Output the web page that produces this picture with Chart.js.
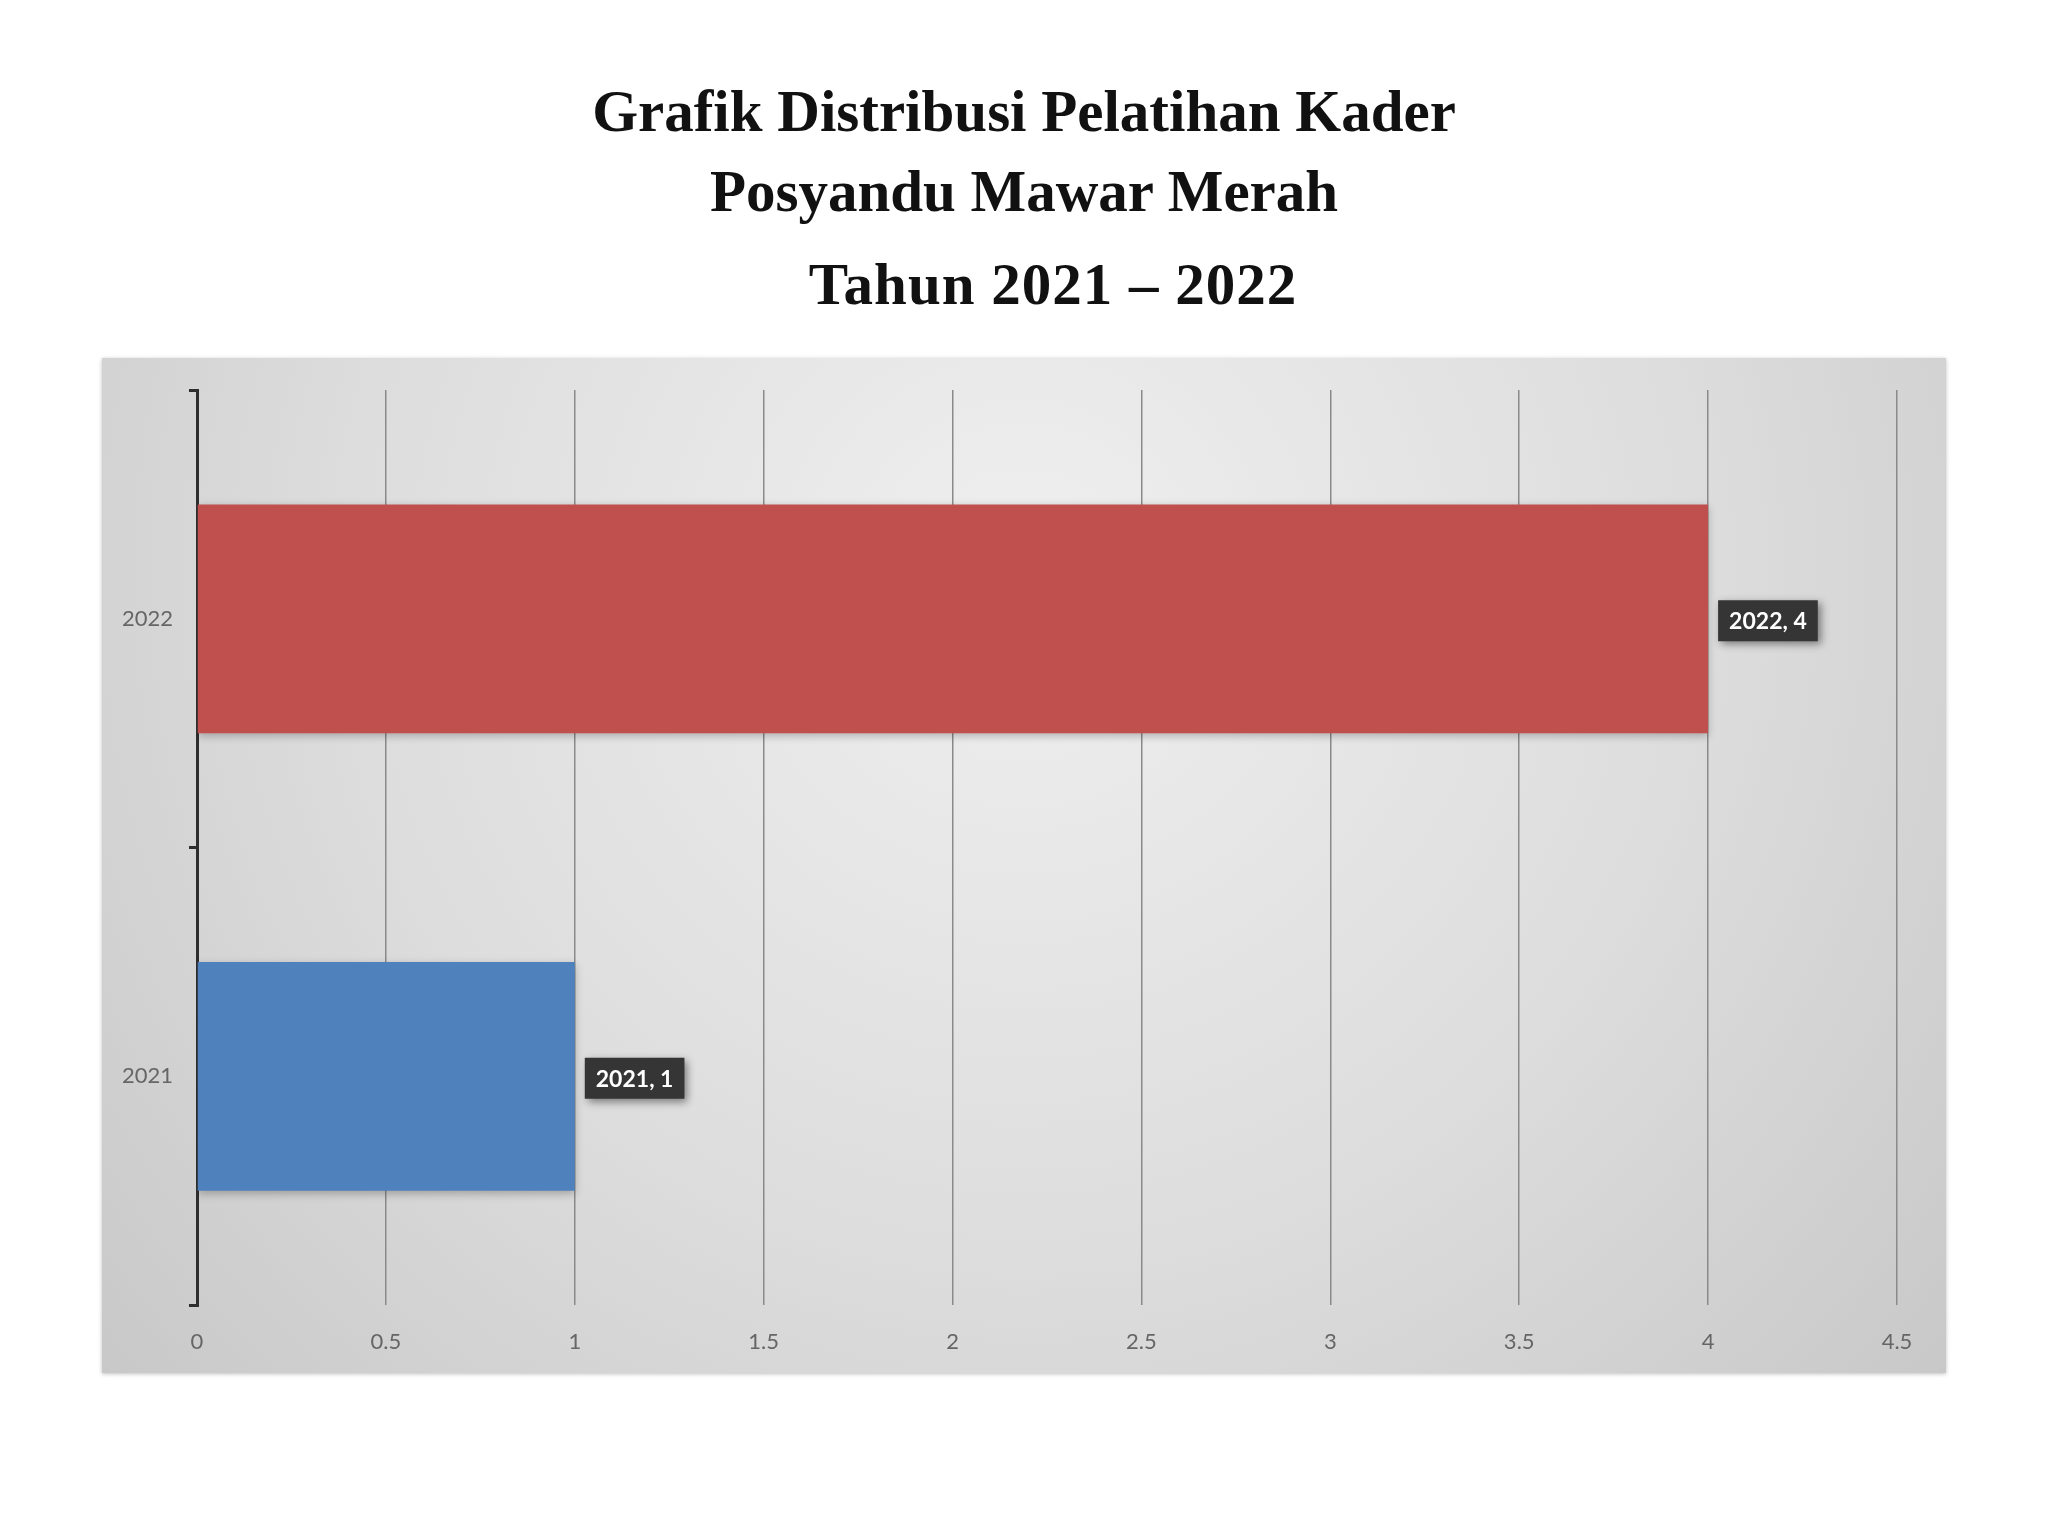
<!DOCTYPE html>
<html>
<head>
<meta charset="utf-8">
<script src="https://cdn.jsdelivr.net/npm/chart.js@4.4.1/dist/chart.umd.min.js"></script>
<style>
  html, body { margin: 0; padding: 0; background: #fff; }
  body { width: 2048px; height: 1536px; position: relative; overflow: hidden; }
  .judul {
    position: absolute; left: 0; width: 2048px; text-align: center;
    font-family: "Liberation Serif", serif; font-weight: bold; font-size: 59px;
    color: #111; line-height: 1; white-space: nowrap;
  }
  #panel {
    position: absolute; left: 102px; top: 358px; width: 1844px; height: 1015px;
    box-shadow: 0 1px 4px rgba(0,0,0,0.25);
  }
</style>
</head>
<body>
<div class="judul" style="top:82px;">Grafik Distribusi Pelatihan Kader</div>
<div class="judul" style="top:162px;">Posyandu Mawar Merah</div>
<div class="judul" style="top:255px; left:29px; letter-spacing:1px;">Tahun 2021 – 2022</div>
<div id="panel"><canvas id="myChart"></canvas></div>
<script>
// data grafik
var tahun = ['2021', '2022'];
var jumlahPelatihan = [1, 4];
var warnaBar = ['#4F81BD', '#C0504D'];
var xTickValues = [0, 0.5, 1, 1.5, 2, 2.5, 3, 3.5, 4, 4.5];

// latar abu-abu bergradasi seperti grafik excel
var latarPanel = {
    id: 'latarPanel',
    beforeDraw: function (chart) {
        var c = chart.ctx, w = chart.width, h = chart.height;
        var g = c.createRadialGradient(w * 0.5, h * 0.22, 20, w * 0.5, h * 0.22, w * 0.72);
        g.addColorStop(0, '#efefef');
        g.addColorStop(0.5, '#dddddd');
        g.addColorStop(1, '#c4c4c4');
        c.save();
        c.fillStyle = g;
        c.fillRect(0, 0, w, h);
        c.restore();
    }
};

// bayangan tipis di bawah bar
var bayanganBar = {
    id: 'bayanganBar',
    beforeDatasetsDraw: function (chart) {
        chart.ctx.save();
        chart.ctx.shadowColor = 'rgba(0,0,0,0.25)';
        chart.ctx.shadowBlur = 8;
        chart.ctx.shadowOffsetY = 3;
    },
    afterDatasetsDraw: function (chart) {
        chart.ctx.restore();
    }
};

// label data kotak hitam "2022, 4"
var labelData = {
    id: 'labelData',
    afterDatasetsDraw: function (chart) {
        var c = chart.ctx;
        var meta = chart.getDatasetMeta(0);
        c.save();
        c.font = 'bold 23px Lato, "Liberation Sans", sans-serif';
        c.textBaseline = 'middle';
        meta.data.forEach(function (bar, i) {
            var teks = tahun[i] + ', ' + jumlahPelatihan[i];
            var tw = c.measureText(teks).width;
            var bw = tw + 22, bh = 41;
            var bx = bar.x + 10, by = bar.y - bh / 2 + 2;
            c.shadowColor = 'rgba(0,0,0,0.45)';
            c.shadowBlur = 8;
            c.shadowOffsetX = 3;
            c.shadowOffsetY = 3;
            c.fillStyle = '#353535';
            c.fillRect(bx, by, bw, bh);
            c.shadowColor = 'transparent';
            c.fillStyle = '#ffffff';
            c.fillText(teks, bx + 11, by + bh / 2 + 1);
        });
        c.restore();
    }
};

var ctx = document.getElementById('myChart').getContext('2d');

var myChart = new Chart(ctx, {
    type: 'bar',
    data: {
        labels: tahun,
        datasets: [{
            label: 'Pelatihan Kader',
            data: jumlahPelatihan,
            backgroundColor: warnaBar,
            borderWidth: 0,
            barPercentage: 0.5,
            categoryPercentage: 1
        }]
    },
    options: {
        indexAxis: 'y',
        responsive: true,
        maintainAspectRatio: false,
        animation: false,
        layout: { padding: { left: 0, right: 49, top: 32, bottom: 0 } },
        plugins: {
            legend: { display: false },
            tooltip: { enabled: false }
        },
        scales: {
            x: {
                min: 0,
                max: 4.5,
                afterBuildTicks: function (scale) {
                    scale.ticks = xTickValues.map(function (v) { return { value: v }; });
                },
                grid: { color: '#8a8a8a', lineWidth: 1.5, drawTicks: false },
                border: { display: false },
                ticks: {
                    color: '#666666',
                    padding: 24,
                    font: { family: 'Lato, "Liberation Sans", sans-serif', size: 22 },
                    callback: function (v) { return String(v); }
                },
                afterFit: function (scale) { scale.height = 68; }
            },
            y: {
                reverse: true,
                grid: {
                    drawOnChartArea: false,
                    drawTicks: true,
                    tickLength: 8,
                    color: '#2e2e2e',
                    lineWidth: 3
                },
                border: { display: true, color: '#2e2e2e', width: 3 },
                ticks: {
                    color: '#666666',
                    padding: 16,
                    font: { family: 'Lato, "Liberation Sans", sans-serif', size: 22 }
                },
                afterFit: function (scale) { scale.width = 95; }
            }
        }
    },
    plugins: [latarPanel, bayanganBar, labelData]
});
</script>
</body>
</html>
